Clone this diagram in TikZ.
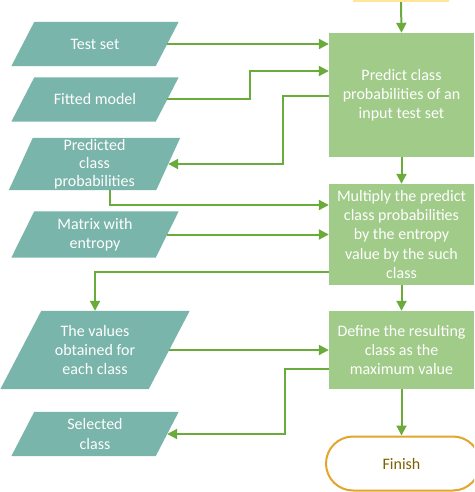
\documentclass[tikz,border=0pt]{standalone}
\usepackage{fontspec}
\setmainfont{Carlito}
\usetikzlibrary{arrows.meta,shapes.misc,backgrounds,calc}
\definecolor{boxgreen}{HTML}{A1CB89}
\definecolor{teal}{HTML}{79B5AA}
\definecolor{arrowgreen}{HTML}{6AAB3C}
\definecolor{finorange}{HTML}{E3A52C}
\definecolor{fintext}{HTML}{7F6000}
\definecolor{topyellow}{HTML}{FFE699}
\begin{document}
\begin{tikzpicture}[x=1pt,y=-1pt,
  every node/.style={font=\fontsize{16}{19.2}\selectfont},
  procbox/.style={rectangle,fill=boxgreen,text=white,inner sep=0pt,minimum width=145pt,align=center},
  paranode/.style={rectangle,inner sep=0pt,text=white,align=center},
  arr/.style={draw=arrowgreen,line width=2pt,-{Triangle[length=10pt,width=10pt]}}]
\useasboundingbox (0,0) rectangle (474,492);
\clip (0,0) rectangle (474,492);
% top box
\node[rectangle,fill=topyellow,minimum width=96pt,minimum height=12pt,inner sep=0pt] (topbox) at (401,-4) {};
% process boxes
\node[procbox,minimum height=124pt] (b1) at (401.5,95) {Predict class\\probabilities of an\\input test set};
\node[procbox,minimum height=101pt] (b2) at (401.5,234.5) {Multiply the predict\\class probabilities\\by the entropy\\value by the such\\class};
\node[procbox,minimum height=78pt] (b3) at (401.5,350) {Define the resulting\\class as the\\maximum value};
\node[rounded rectangle,draw=finorange,line width=2pt,fill=white,text=fintext,minimum width=154pt,minimum height=54pt,inner sep=0pt] (fin) at (403,463.5) {};
\node[text=fintext] (fintxt) at (401.5,463.5) {Finish};
% data nodes
\node[paranode,minimum width=144pt,minimum height=44pt] (p1) at (95,44) {Test set};
\node[paranode,minimum width=144pt,minimum height=44pt] (p2) at (95,99.5) {Fitted model};
\node[paranode,minimum width=147pt,minimum height=52pt] (p3) at (94.5,164) {Predicted\\[-1.2pt]class\\[-1.2pt]probabilities};
\node[paranode,minimum width=144pt,minimum height=46pt] (p4) at (95,234.5) {Matrix with\\entropy};
\node[paranode,minimum width=148pt,minimum height=78pt] (p5) at (95,350) {The values\\obtained for\\each class};
\node[paranode,minimum width=144pt,minimum height=44pt] (p6) at (95,434) {Selected\\class};
\begin{scope}[on background layer]
\foreach \n/\s in {p1/11.5,p2/11.5,p3/12,p4/11.5,p5/20.5,p6/11.5}
  \fill[teal] ($(\n.north east)+(\s,0)$) -- ($(\n.south east)+(-\s,0)$) -- ($(\n.south west)+(-\s,0)$) -- ($(\n.north west)+(\s,0)$) -- cycle;
\end{scope}
% connectors
\draw[arr] (topbox.south) -- (b1.north);
\draw[arr] (b1.south) -- (b2.north);
\draw[arr] (b2.south) -- (b3.north);
\draw[arr] (b3.south) -- (b3.south |- fin.north);
\draw[arr] (p1.east) -- (b1.west |- p1.east);
\draw[arr] (p2.east) -| (250,71) -- (b1.west |- 250,71);
\draw[arr] (b1.west |- 0,96) -| (283,164) -- (p3.east);
\draw[arr] (p3.south -| 110,0) |- (b2.west |- 0,205);
\draw[arr] (p4.east) -- (b2.west |- p4.east);
\draw[arr] (b2.west |- 0,272) -| (p5.north);
\draw[arr] (p5.east) -- (b3.west |- p5.east);
\draw[arr] (b3.west |- 0,369) -| (285,434) -- (p6.east);
\end{tikzpicture}
\end{document}
